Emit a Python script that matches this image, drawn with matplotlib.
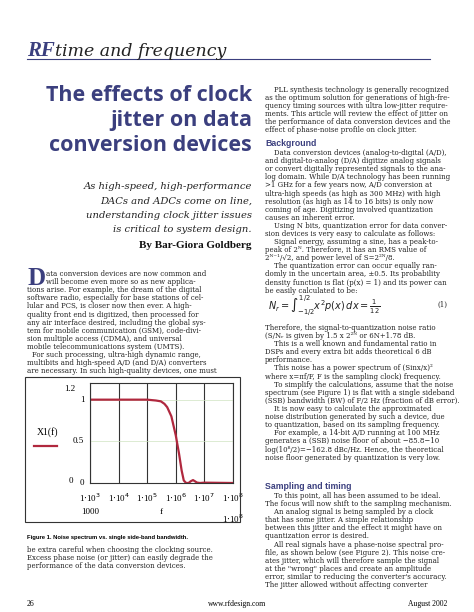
import numpy as np
import matplotlib
matplotlib.use("Agg")
import matplotlib.pyplot as plt
from matplotlib.ticker import NullFormatter, LogLocator

# ---- chart data ----
freq = [1e3, 1e4, 1e5, 2e5, 3e5, 4e5, 5e5, 7e5, 1e6, 1.3e6, 1.6e6, 1.9e6, 2.3e6, 2.8e6, 3.3e6, 4e6, 4.7e6, 5.5e6, 7e6, 1e7, 1e8]
x1 = [1.0, 1.0, 1.0, 0.99, 0.98, 0.95, 0.91, 0.80, 0.57, 0.35, 0.15, 0.03, 0.0, 0.0, 0.02, 0.035, 0.02, 0.005, 0.0, 0.004, 0.0]
xtick_exps = [3, 4, 5, 6, 7, 8]
ytick_vals = [0, 0.5, 1]

W, H = 474, 612
fig = plt.figure(figsize=(W/100, H/100), dpi=100)
fig.patch.set_facecolor("white")

SERIF = ["Liberation Serif", "DejaVu Serif"]
BODY = ["DejaVu Serif"]

def T(x, y, s, **kw):
    kw.setdefault("va", "baseline")
    fig.text(x/W, 1 - y/H, s, **kw)

BLUE = "#3b3f7e"

# header
T(27, 56, "RF", fontsize=15, fontweight="bold", style="italic", color=BLUE, family=SERIF)
T(55, 56, "time and frequency", fontsize=12.5, style="italic", color="#222222", family="DejaVu Serif")
fig.add_artist(plt.Line2D([27/W, 430/W], [1-59/H, 1-59/H], color=BLUE, lw=0.8))

# title
for i, s in enumerate(["The effects of clock", "jitter on data", "conversion devices"]):
    T(252, 101 + 25*i, s, fontsize=15.5, fontweight="bold", color=BLUE, family="Open Sans", ha="right")
for i, s in enumerate(["As high-speed, high-performance", "DACs and ADCs come on line,",
                       "understanding clock jitter issues", "is critical to system design."]):
    T(252, 189 + 14.5*i, s, fontsize=7.2, style="italic", color="#222", family="DejaVu Serif", ha="right")
T(252, 248, "By Bar-Giora Goldberg", fontsize=8, fontweight="bold", color="#111", family=SERIF, ha="right")

FS = 5.0
# left column
T(27, 285, "D", fontsize=18, fontweight="bold", color=BLUE, family=SERIF)
left = [(46, "ata conversion devices are now common and"), (46, "will become even more so as new applica-"),
        (27, "tions arise. For example, the dream of the digital"), (27, "software radio, especially for base stations of cel-"),
        (27, "lular and PCS, is closer now then ever. A high-"), (27, "quality front end is digitized, then processed for"),
        (27, "any air interface desired, including the global sys-"), (27, "tem for mobile communication (GSM), code-divi-"),
        (27, "sion multiple access (CDMA), and universal"), (27, "mobile telecommunications system (UMTS)."),
        (32, "For such processing, ultra-high dynamic range,"), (27, "multibits and high-speed A/D (and D/A) converters"),
        (27, "are necessary. In such high-quality devices, one must")]
for i, (x, s) in enumerate(left):
    T(x, 276 + 8.1*i, s, fontsize=FS, family=BODY, color="#222")
T(27, 539, "Figure 1. Noise spectrum vs. single side-band bandwidth.", fontsize=4.2, fontweight="bold", family="Liberation Sans")
for i, s in enumerate(["be extra careful when choosing the clocking source.",
                       "Excess phase noise (or jitter) can easily degrade the",
                       "performance of the data conversion devices."]):
    T(27, 552 + 8.1*i, s, fontsize=FS, family=BODY, color="#222")

# right column
right1 = ["    PLL synthesis technology is generally recognized", "as the optimum solution for generations of high-fre-",
          "quency timing sources with ultra low-jitter require-", "ments. This article will review the effect of jitter on",
          "the performance of data conversion devices and the", "effect of phase-noise profile on clock jitter."]
for i, s in enumerate(right1):
    T(265, 92 + 8.1*i, s, fontsize=FS, family=BODY, color="#222")
T(265, 146, "Background", fontsize=6.3, fontweight="bold", color=BLUE, family="Liberation Sans")
right2 = ["    Data conversion devices (analog-to-digital (A/D),", "and digital-to-analog (D/A) digitize analog signals",
          "or convert digitally represented signals to the ana-", "log domain. While D/A technology has been running",
          ">1 GHz for a few years now, A/D conversion at", "ultra-high speeds (as high as 300 MHz) with high",
          "resolution (as high as 14 to 16 bits) is only now", "coming of age. Digitizing involved quantization",
          "causes an inherent error.", "    Using N bits, quantization error for data conver-",
          "sion devices is very easy to calculate as follows:", "    Signal energy, assuming a sine, has a peak-to-",
          "peak of 2ᴺ. Therefore, it has an RMS value of", "2ᴺ⁻¹/√2, and power level of S=2²ᴺ/8.",
          "    The quantization error can occur equally ran-", "domly in the uncertain area, ±0.5. Its probability",
          "density function is flat (p(x) = 1) and its power can", "be easily calculated to be:"]
for i, s in enumerate(right2):
    T(265, 155 + 8.1*i, s, fontsize=FS, family=BODY, color="#222")
T(268, 310, r"$N_r = \int_{-1/2}^{1/2} x^2 p(x)\,dx = \frac{1}{12}$", fontsize=7, color="#222")
T(447, 307, "(1)", fontsize=FS, family=BODY, ha="right", color="#222")
right3 = ["Therefore, the signal-to-quantization noise ratio", "(S/Nᵣ is given by 1.5 x 2²ᴺ or 6N+1.78 dB.",
          "    This is a well known and fundamental ratio in", "DSPs and every extra bit adds theoretical 6 dB",
          "performance.", "    This noise has a power spectrum of (Sinx/x)²",
          "where x=πf/F, F is the sampling clock) frequency.", "    To simplify the calculations, assume that the noise",
          "spectrum (see Figure 1) is flat with a single sideband", "(SSB) bandwidth (BW) of F/2 Hz (fraction of dB error).",
          "    It is now easy to calculate the approximated", "noise distribution generated by such a device, due",
          "to quantization, based on its sampling frequency.", "    For example, a 14-bit A/D running at 100 MHz",
          "generates a (SSB) noise floor of about −85.8−10", "log(10⁸/2)=−162.8 dBc/Hz. Hence, the theoretical",
          "noise floor generated by quantization is very low."]
for i, s in enumerate(right3):
    T(265, 330 + 8.1*i, s, fontsize=FS, family=BODY, color="#222")
T(265, 489, "Sampling and timing", fontsize=6.3, fontweight="bold", color=BLUE, family="Liberation Sans")
right4 = ["    To this point, all has been assumed to be ideal.", "The focus will now shift to the sampling mechanism.",
          "    An analog signal is being sampled by a clock", "that has some jitter. A simple relationship",
          "between this jitter and the effect it might have on", "quantization error is desired.",
          "    All real signals have a phase-noise spectral pro-", "file, as shown below (see Figure 2). This noise cre-",
          "ates jitter, which will therefore sample the signal", "at the \"wrong\" places and create an amplitude",
          "error, similar to reducing the converter's accuracy.", "The jitter allowed without affecting converter"]
for i, s in enumerate(right4):
    T(265, 498 + 8.1*i, s, fontsize=FS, family=BODY, color="#222")

# footer
T(27, 606, "26", fontsize=5.5, family=SERIF)
T(237, 606, "www.rfdesign.com", fontsize=5.5, family=SERIF, ha="center")
T(447, 606, "August 2002", fontsize=5.5, family=SERIF, ha="right")

# figure frame
fig.add_artist(plt.Rectangle((25/W, 1-522/H), 215/W, 145/H, fill=False, lw=0.8, ec="#333"))

# chart
ax = fig.add_axes([90/W, 1-483/H, 143/W, 100/H])
ax.set_xscale("log")
ax.set_xlim(1e3, 1e8)
ax.set_ylim(0, 1.2)
ax.plot(freq, x1, color="#b0283e", lw=1.6)
ax.xaxis.set_minor_locator(LogLocator(base=10, subs=np.arange(2, 10)))
ax.grid(True, which="minor", axis="x", color="#cfe3c0", lw=0.5)
ax.grid(True, which="major", axis="x", color="#333", lw=0.8)
ax.set_yticks([0.5, 1.0])
ax.grid(True, which="major", axis="y", color="#cfe3c0", lw=0.5)
ax.set_xticks([10.0**e for e in xtick_exps])
ax.xaxis.set_major_formatter(NullFormatter())
ax.xaxis.set_minor_formatter(NullFormatter())
ax.yaxis.set_major_formatter(NullFormatter())
ax.tick_params(length=0, which="both")
for sp in ax.spines.values():
    sp.set_color("#333"); sp.set_linewidth(0.8)

for e in xtick_exps:
    ax.text(10.0**e, -0.1, r"1$\cdot$10$^{%d}$" % e, ha="center", va="top", fontsize=6.5, family=SERIF)
ax.text(1e3, -0.3, "1000", ha="center", va="top", fontsize=6.5, family=SERIF)
ax.text(10**5.5, -0.3, "f", ha="center", va="top", fontsize=6.5, family=SERIF)
ax.text(1e8, -0.36, r"1$\cdot$10$^{8}$", ha="center", va="top", fontsize=6.5, family=SERIF)
for v in ytick_vals:
    ax.text(10**2.8, v, str(v) if v != 1 else "1", ha="right", va="center", fontsize=6.5, family=SERIF)
ax.text(10**2.5, 1.13, "1.2", ha="right", va="center", fontsize=6.5, family=SERIF)
ax.text(10**2.4, 0.02, "0", ha="right", va="center", fontsize=6.5, family=SERIF)
T(37, 435, "X1(f)", fontsize=7, family=SERIF)
fig.add_artist(plt.Line2D([34/W, 57/W], [1-446/H, 1-446/H], color="#b0283e", lw=1.6))

fig.savefig("out.png", dpi=100, facecolor="white")
